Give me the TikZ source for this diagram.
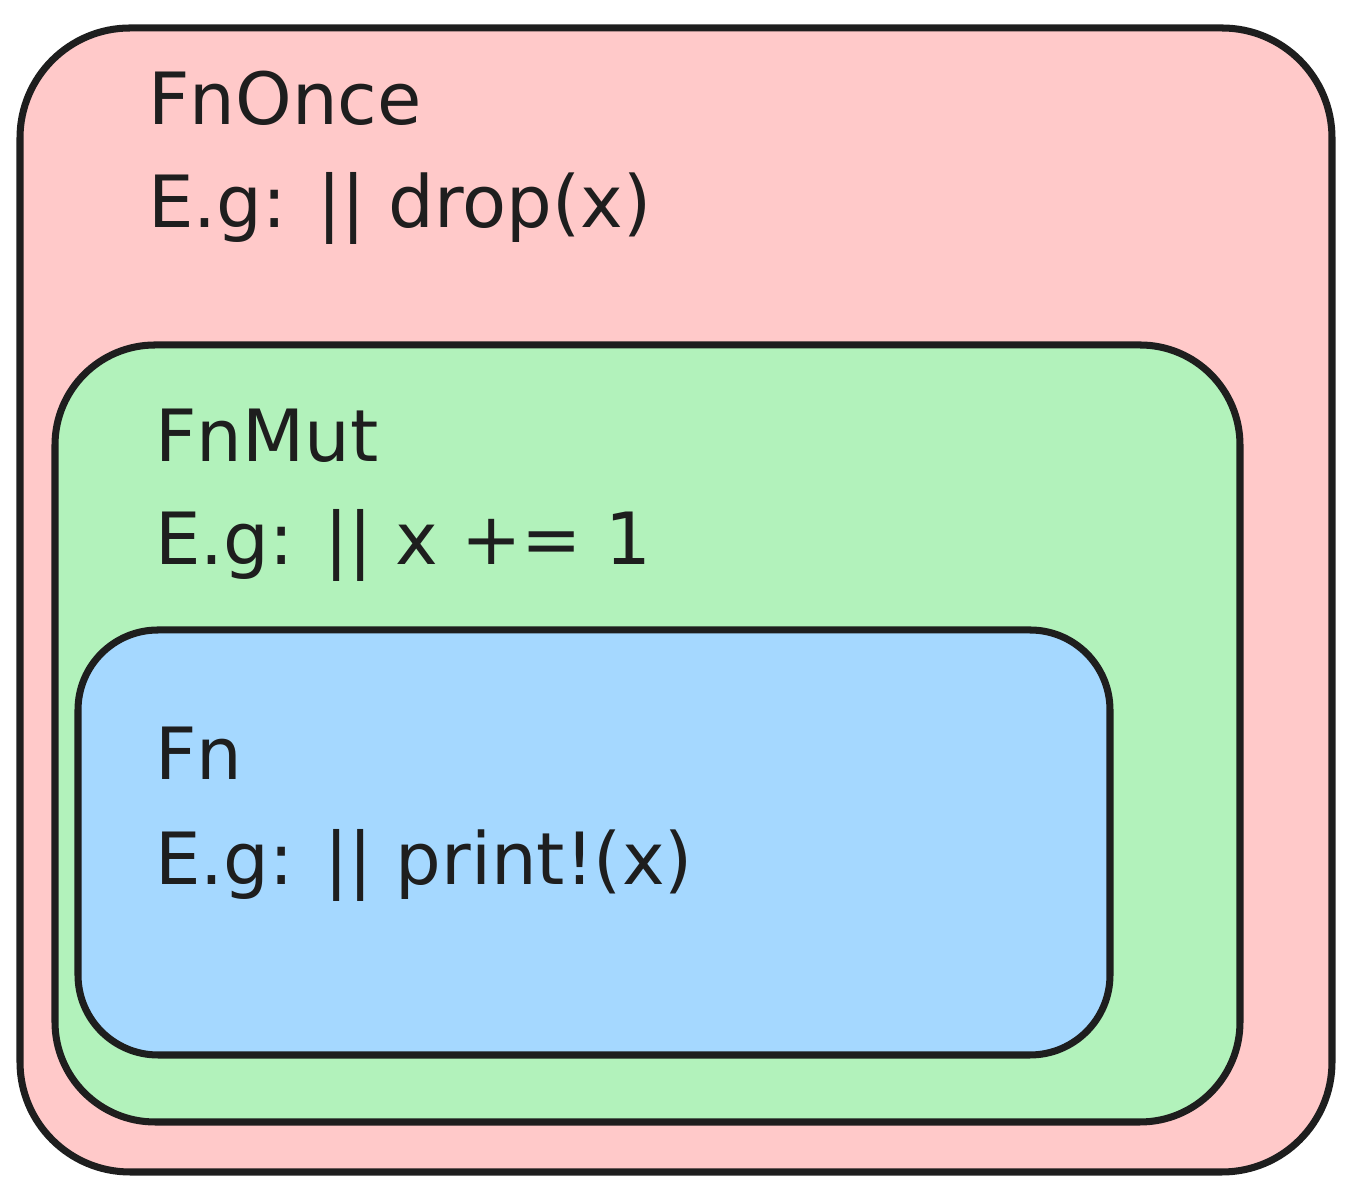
\documentclass[tikz,border=0pt]{standalone}
\usepackage{fontspec}
\setmainfont{DejaVu Sans}
\definecolor{oncefill}{HTML}{FFC9C9}
\definecolor{mutfill}{HTML}{B2F2BB}
\definecolor{fnfill}{HTML}{A5D8FF}
\definecolor{ink}{HTML}{1E1E1E}
\tikzset{
    traitbox/.style={draw=ink, line width=4pt, rounded corners=#1, inner sep=0pt},
    label/.style={anchor=base west, inner sep=0pt, text=ink, font=\fontsize{41}{49}\selectfont}
}
\begin{document}
\begin{tikzpicture}
    \useasboundingbox (0,0) rectangle (27.12,24.08);

    \node[
        traitbox=2.2cm,
        fill=oncefill,
        minimum width=26.24cm,
        minimum height=22.88cm,
        name=fnonce
    ] at (13.52,12.08) {};
    \node[
        traitbox=2cm,
        fill=mutfill,
        minimum width=23.7cm,
        minimum height=15.54cm,
        name=fnmut
    ] at (12.95,9.41) {};
    \node[
        traitbox=1.6cm,
        fill=fnfill,
        minimum width=20.64cm,
        minimum height=8.5cm,
        name=fn
    ] at (11.88,7.23) {};

    \node[label, name=oncetitle] at (2.96,21.58) {FnOnce};
    \node[label, name=onceex] at (2.96,19.52) {E.g: || drop(x)};

    \node[label, name=muttitle] at (3.1,14.84) {FnMut};
    \node[label, name=mutex] at (3.1,12.78) {E.g: || x += 1};

    \node[label, name=fntitle] at (3.1,8.48) {Fn};
    \node[label, name=fnex] at (3.1,6.38) {E.g: || print!(x)};
\end{tikzpicture}
\end{document}
